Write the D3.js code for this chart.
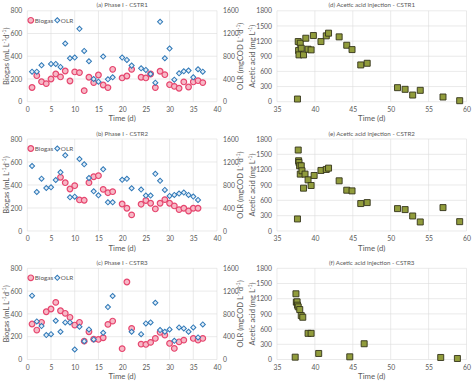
<!DOCTYPE html>
<html><head><meta charset="utf-8">
<script src="https://cdn.jsdelivr.net/npm/d3@7"></script>
<style>
html,body{margin:0;padding:0;background:#fff;}
svg text{font-family:Lato,"Open Sans",sans-serif;fill:#595959;}
</style></head>
<body><svg id="c" width="474" height="382"></svg>
<script>
// ---------- data ----------
const panelTitles = ["(a) Phase I - CSTR1","(b) Phase I - CSTR2","(c) Phase I - CSTR3",
  "(d) Acetic acid injection - CSTR1","(e) Acetic acid injection - CSTR2","(f) Acetic acid injection - CSTR3"];
const biogasTicks = [0,200,400,600,800];
const olrTicks = [0,400,800,1200,1600];
const acidTicks = [0,300,600,900,1200,1500,1800];
const phaseTimeTicks = [0,5,10,15,20,25,30,35,40];
const acidTimeTicks = [35,40,45,50,55,60];

const biogasDaysA = [1,2,3,4,5,6,7,8,9,10,11,12,13,14,15,16,17,18,20,21,22,24,25,26,27,28,29,30,31,32,33,34,35,36,37];
const biogasA = [125,229,176,159,200,244,218,270,182,262,256,97,215,168,235,147,124,285,209,226,285,215,209,244,124,268,238,150,135,118,174,129,174,185,168];
const olrDaysA = [1,2,3,5,6,7,8,9,10,11,12,13,14,15,16,17,18,20,21,22,24,25,26,27,28,29,30,31,32,33,34,35,36,37];
const olrA = [529,529,641,665,665,612,1024,765,776,1282,894,712,400,353,794,394,429,776,735,635,588,559,488,335,1406,765,935,388,500,535,547,429,571,529];

const biogasDaysB = [7,8,9,10,11,12,13,14,15,16,17,18,20,21,22,24,25,26,27,28,29,30,31,32,33,34,35,36];
const biogasB = [467,420,365,394,270,267,420,472,481,362,333,342,235,198,140,233,265,241,192,241,273,241,218,186,198,174,198,198];
const olrDaysB = [1,2,3,4,5,6,7,8,9,10,11,12,13,14,15,16,17,18,20,21,22,24,25,26,27,28,29,30,31,32,33,34,35,36];
const olrB = [1130,678,910,748,759,887,1020,1316,586,597,1252,1159,922,690,620,1072,499,499,890,907,744,721,616,616,994,872,715,610,628,651,669,628,599,541];

const biogasDaysC = [1,2,3,4,5,6,7,8,9,10,11,12,13,14,15,16,17,18,20,21,22,24,25,26,27,28,29,30,31,32,33,35,36,37];
const biogasC = [311,258,326,419,443,501,428,405,370,302,326,161,243,179,176,191,308,337,95,680,273,135,132,150,185,238,214,141,97,155,170,185,170,185];
const olrDaysC = [1,2,3,4,5,6,7,8,9,10,11,12,13,14,16,17,18,22,24,25,26,27,28,29,30,31,32,33,34,35,36,37];
const olrC = [1120,668,586,428,445,680,487,651,651,176,574,322,528,352,469,920,1114,487,445,633,651,996,516,487,528,328,563,545,487,563,387,615];

const timeD = [37.7,37.8,37.85,37.9,38.07,38.2,38.5,38.8,39.1,39.5,39.8,40.8,41.5,41.8,43.2,44.2,44.9,46.05,46.9,50.9,51.9,52.9,53.9,56.9,59.1];
const acidD = [53,1191,1013,927,1158,1059,927,1257,1039,1026,1310,1191,1304,1357,1284,1118,1032,728,761,278,245,132,225,93,20];

const timeE = [37.7,37.8,37.85,37.9,37.98,38.07,38.2,38.3,38.5,38.7,39.1,39.5,39.9,40.8,41.5,41.8,43.2,44.2,44.9,46.05,46.9,50.9,51.9,52.9,53.9,56.9,59.1];
const acidE = [236,1584,1374,1341,1276,1113,1276,1178,838,1113,1001,890,1086,1185,1204,1230,982,798,785,537,556,438,419,294,177,458,183];

const timeF = [37.4,37.5,37.55,37.65,37.7,37.8,38.0,38.2,38.4,39.1,39.5,40.5,44.6,46.5,56.6,58.8];
const acidF = [46,1297,1132,1138,1072,1039,986,867,834,516,516,119,53,311,40,20];

// ---------- drawing ----------
const svg = d3.select("#c");
const rows = [{t:10.8,b:101.7},{t:139,b:231},{t:268.3,b:359.5}];
const cols = [{l:27.3,r:217},{l:277,r:466.5}];
const grid = "#dcdcdc";
const tickFont = 6.8;
const fmt = d3.format("d");

function zipPts(xs, ys){ return xs.map((x,i)=>[x,ys[i]]); }

function yTitle(g, x, yc, parts){
  const t = g.append("text").attr("transform",`translate(${x},${yc}) rotate(-90)`)
    .attr("text-anchor","middle").attr("font-size",7.6).attr("fill","#404040");
  parts.forEach(p=>{
    const s = t.append("tspan").text(p[0]);
    if(p[1]) s.attr("font-size",5).attr("baseline-shift","super");
  });
}

function styleAxis(a){
  a.select(".domain").remove();
  a.selectAll("text").attr("font-size",tickFont).attr("font-family","Lato,sans-serif").attr("fill","#595959");
}

function frame(row,col,xDom,xTicks,yDom,yTicks,title){
  const R = rows[row], C = cols[col];
  const x = d3.scaleLinear().domain(xDom).range([C.l,C.r]);
  const y = d3.scaleLinear().domain(yDom).range([R.b,R.t]);
  const g = svg.append("g");
  g.append("g").selectAll("line").data(yTicks).join("line")
    .attr("x1",C.l).attr("x2",C.r).attr("y1",d=>y(d)).attr("y2",d=>y(d))
    .attr("stroke",grid).attr("stroke-width",0.6);
  g.append("g").selectAll("line").data(xTicks).join("line")
    .attr("y1",R.t).attr("y2",R.b).attr("x1",d=>x(d)).attr("x2",d=>x(d))
    .attr("stroke",grid).attr("stroke-width",0.6);
  const ax = g.append("g").attr("transform",`translate(0,${R.b})`)
    .call(d3.axisBottom(x).tickValues(xTicks).tickFormat(fmt).tickSize(0).tickPadding(5.5));
  const ay = g.append("g").attr("transform",`translate(${C.l},0)`)
    .call(d3.axisLeft(y).tickValues(yTicks).tickFormat(fmt).tickSize(0).tickPadding(5));
  styleAxis(ax); styleAxis(ay);
  g.append("text").attr("x",(C.l+C.r)/2).attr("y",R.b+19.5).attr("text-anchor","middle")
    .attr("font-size",7.8).attr("fill","#404040").text("Time (d)");
  g.append("text").attr("x",(C.l+C.r)/2).attr("y",R.t-3.5).attr("text-anchor","middle")
    .attr("font-size",6.2).attr("fill","#404040").text(title);
  return {g,x,y,R,C};
}

const circSym = d3.symbol().type(d3.symbolCircle).size(25);
const diaSym = d3.symbol().type(d3.symbolSquare).size(13);
const sqSym = d3.symbol().type(d3.symbolSquare).size(36);
const pinkFill = "#f7b8c6", pinkStroke = "#e6466f";
const blueFill = "#e3eef8", blueStroke = "#2f78b7";

function phasePanel(row, bDays, bVals, oDays, oVals){
  const f = frame(row,0,[0,40],phaseTimeTicks,[0,800],biogasTicks,panelTitles[row]);
  const yR = d3.scaleLinear().domain([0,1600]).range([f.R.b,f.R.t]);
  const ar = f.g.append("g").attr("transform",`translate(${f.C.r},0)`)
    .call(d3.axisRight(yR).tickValues(olrTicks).tickFormat(fmt).tickSize(0).tickPadding(6));
  styleAxis(ar);
  const ym = (f.R.t+f.R.b)/2;
  yTitle(f.g, 8.5, ym, [["Biogas (mL L"],["-1",1],["d"],["-1",1],[")"]]);
  yTitle(f.g, 243, ym, [["OLR (mgCOD L"],["-1",1],["d"],["-1",1],[")"]]);
  f.g.append("g").selectAll("path").data(zipPts(bDays,bVals)).join("path")
    .attr("d",circSym).attr("transform",d=>`translate(${f.x(d[0])},${f.y(d[1])})`)
    .attr("fill",pinkFill).attr("stroke",pinkStroke).attr("stroke-width",1.2);
  f.g.append("g").selectAll("path").data(zipPts(oDays,oVals)).join("path")
    .attr("d",diaSym).attr("transform",d=>`translate(${f.x(d[0])},${yR(d[1])}) rotate(45)`)
    .attr("fill",blueFill).attr("stroke",blueStroke).attr("stroke-width",1);
  const ly = f.R.t + 9.5;
  const lg = f.g.append("g");
  lg.append("path").attr("d",circSym).attr("transform",`translate(${f.C.l+3.5},${ly})`)
    .attr("fill",pinkFill).attr("stroke",pinkStroke).attr("stroke-width",1.2);
  lg.append("text").attr("x",f.C.l+7.5).attr("y",ly+2.3).attr("font-size",6.4).attr("fill","#404040").text("Biogas");
  lg.append("path").attr("d",diaSym).attr("transform",`translate(${f.C.l+30},${ly}) rotate(45)`)
    .attr("fill",blueFill).attr("stroke",blueStroke).attr("stroke-width",1);
  lg.append("text").attr("x",f.C.l+33.5).attr("y",ly+2.3).attr("font-size",6.4).attr("fill","#404040").text("OLR");
}

function acidPanel(row, ts, vs){
  const f = frame(row,1,[35,60],acidTimeTicks,[0,1800],acidTicks,panelTitles[row+3]);
  const ym = (f.R.t+f.R.b)/2;
  yTitle(f.g, 255, ym, [["Acetic acid (mg L"],["-1",1],[")"]]);
  f.g.append("g").selectAll("path").data(zipPts(ts,vs)).join("path")
    .attr("d",sqSym).attr("transform",d=>`translate(${f.x(d[0])},${f.y(d[1])})`)
    .attr("fill","#919c3c").attr("stroke","#33331a").attr("stroke-width",0.9);
}

phasePanel(0, biogasDaysA, biogasA, olrDaysA, olrA);
phasePanel(1, biogasDaysB, biogasB, olrDaysB, olrB);
phasePanel(2, biogasDaysC, biogasC, olrDaysC, olrC);
acidPanel(0, timeD, acidD);
acidPanel(1, timeE, acidE);
acidPanel(2, timeF, acidF);
</script></body></html>
